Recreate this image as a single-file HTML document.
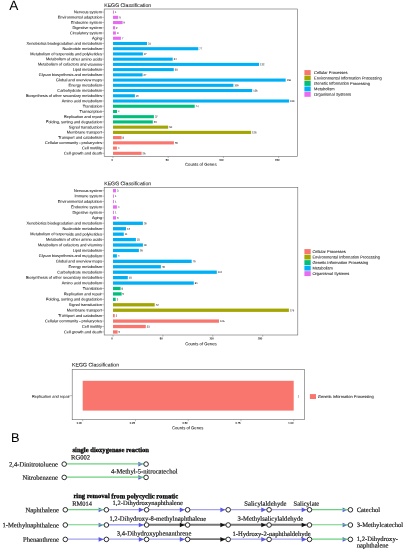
<!DOCTYPE html>
<html><head><meta charset="utf-8"><title>KEGG Classification</title>
<style>html,body{margin:0;padding:0;background:#fff;} svg{display:block;}</style></head>
<body><svg width="405" height="550" viewBox="0 0 405 550" text-rendering="geometricPrecision">
<rect width="405" height="550" fill="#fff"/>
<text x="9.2" y="10.4" font-size="13.6" fill="#000" font-family="'Liberation Sans', Arial, sans-serif">A</text>
<text x="104.20" y="7.00" font-size="5.2" text-anchor="start" fill="#1a1a1a" font-family="'Liberation Sans', Arial, sans-serif" stroke="#1a1a1a" stroke-width="0.06" transform="rotate(0.05 104.20 7.00)">KEGG Classification</text>
<rect x="104.2" y="9.0" width="193.3" height="147.4" fill="none" stroke="#666" stroke-width="0.6"/>
<rect x="113" y="10.55" width="0.90" height="3.1" fill="#E76BF3"/>
<text x="114.90" y="13.00" font-size="2.6" text-anchor="start" fill="#333" font-family="'Liberation Sans', Arial, sans-serif" stroke="#333" stroke-width="0.05" transform="rotate(0.05 114.90 13.00)">1</text>
<text x="101.90" y="13.35" font-size="3.9" text-anchor="end" fill="#1a1a1a" font-family="'Liberation Sans', Arial, sans-serif" stroke="#1a1a1a" stroke-width="0.06" transform="rotate(0.05 101.90 13.35)">Nervous system</text>
<line x1="102.2" y1="12.10" x2="104.2" y2="12.10" stroke="#555" stroke-width="0.4"/>
<rect x="113" y="15.78" width="5.20" height="3.1" fill="#E76BF3"/>
<text x="119.20" y="18.23" font-size="2.6" text-anchor="start" fill="#333" font-family="'Liberation Sans', Arial, sans-serif" stroke="#333" stroke-width="0.05" transform="rotate(0.05 119.20 18.23)">5</text>
<text x="101.90" y="18.58" font-size="3.9" text-anchor="end" fill="#1a1a1a" font-family="'Liberation Sans', Arial, sans-serif" stroke="#1a1a1a" stroke-width="0.06" transform="rotate(0.05 101.90 18.58)">Environmental adaptation</text>
<line x1="102.2" y1="17.33" x2="104.2" y2="17.33" stroke="#555" stroke-width="0.4"/>
<rect x="113" y="21.01" width="9.60" height="3.1" fill="#E76BF3"/>
<text x="123.60" y="23.46" font-size="2.6" text-anchor="start" fill="#333" font-family="'Liberation Sans', Arial, sans-serif" stroke="#333" stroke-width="0.05" transform="rotate(0.05 123.60 23.46)">9</text>
<text x="101.90" y="23.81" font-size="3.9" text-anchor="end" fill="#1a1a1a" font-family="'Liberation Sans', Arial, sans-serif" stroke="#1a1a1a" stroke-width="0.06" transform="rotate(0.05 101.90 23.81)">Endocrine system</text>
<line x1="102.2" y1="22.56" x2="104.2" y2="22.56" stroke="#555" stroke-width="0.4"/>
<rect x="113" y="26.24" width="2.10" height="3.1" fill="#E76BF3"/>
<text x="116.10" y="28.69" font-size="2.6" text-anchor="start" fill="#333" font-family="'Liberation Sans', Arial, sans-serif" stroke="#333" stroke-width="0.05" transform="rotate(0.05 116.10 28.69)">2</text>
<text x="101.90" y="29.04" font-size="3.9" text-anchor="end" fill="#1a1a1a" font-family="'Liberation Sans', Arial, sans-serif" stroke="#1a1a1a" stroke-width="0.06" transform="rotate(0.05 101.90 29.04)">Digestive system</text>
<line x1="102.2" y1="27.79" x2="104.2" y2="27.79" stroke="#555" stroke-width="0.4"/>
<rect x="113" y="31.47" width="2.90" height="3.1" fill="#E76BF3"/>
<text x="116.90" y="33.92" font-size="2.6" text-anchor="start" fill="#333" font-family="'Liberation Sans', Arial, sans-serif" stroke="#333" stroke-width="0.05" transform="rotate(0.05 116.90 33.92)">3</text>
<text x="101.90" y="34.27" font-size="3.9" text-anchor="end" fill="#1a1a1a" font-family="'Liberation Sans', Arial, sans-serif" stroke="#1a1a1a" stroke-width="0.06" transform="rotate(0.05 101.90 34.27)">Circulatory system</text>
<line x1="102.2" y1="33.02" x2="104.2" y2="33.02" stroke="#555" stroke-width="0.4"/>
<rect x="113" y="36.70" width="7.90" height="3.1" fill="#E76BF3"/>
<text x="121.90" y="39.15" font-size="2.6" text-anchor="start" fill="#333" font-family="'Liberation Sans', Arial, sans-serif" stroke="#333" stroke-width="0.05" transform="rotate(0.05 121.90 39.15)">7</text>
<text x="101.90" y="39.50" font-size="3.9" text-anchor="end" fill="#1a1a1a" font-family="'Liberation Sans', Arial, sans-serif" stroke="#1a1a1a" stroke-width="0.06" transform="rotate(0.05 101.90 39.50)">Aging</text>
<line x1="102.2" y1="38.25" x2="104.2" y2="38.25" stroke="#555" stroke-width="0.4"/>
<rect x="113" y="41.93" width="34.00" height="3.1" fill="#00B0F6"/>
<text x="148.00" y="44.38" font-size="2.6" text-anchor="start" fill="#333" font-family="'Liberation Sans', Arial, sans-serif" stroke="#333" stroke-width="0.05" transform="rotate(0.05 148.00 44.38)">31</text>
<text x="101.90" y="44.73" font-size="3.9" text-anchor="end" fill="#1a1a1a" font-family="'Liberation Sans', Arial, sans-serif" stroke="#1a1a1a" stroke-width="0.06" transform="rotate(0.05 101.90 44.73)">Xenobiotics biodegradation and metabolism</text>
<line x1="102.2" y1="43.48" x2="104.2" y2="43.48" stroke="#555" stroke-width="0.4"/>
<rect x="113" y="47.16" width="85.30" height="3.1" fill="#00B0F6"/>
<text x="199.30" y="49.61" font-size="2.6" text-anchor="start" fill="#333" font-family="'Liberation Sans', Arial, sans-serif" stroke="#333" stroke-width="0.05" transform="rotate(0.05 199.30 49.61)">77</text>
<text x="101.90" y="49.96" font-size="3.9" text-anchor="end" fill="#1a1a1a" font-family="'Liberation Sans', Arial, sans-serif" stroke="#1a1a1a" stroke-width="0.06" transform="rotate(0.05 101.90 49.96)">Nucleotide metabolism</text>
<line x1="102.2" y1="48.71" x2="104.2" y2="48.71" stroke="#555" stroke-width="0.4"/>
<rect x="113" y="52.39" width="29.90" height="3.1" fill="#00B0F6"/>
<text x="143.90" y="54.84" font-size="2.6" text-anchor="start" fill="#333" font-family="'Liberation Sans', Arial, sans-serif" stroke="#333" stroke-width="0.05" transform="rotate(0.05 143.90 54.84)">27</text>
<text x="101.90" y="55.19" font-size="3.9" text-anchor="end" fill="#1a1a1a" font-family="'Liberation Sans', Arial, sans-serif" stroke="#1a1a1a" stroke-width="0.06" transform="rotate(0.05 101.90 55.19)">Metabolism of terpenoids and polyketides</text>
<line x1="102.2" y1="53.94" x2="104.2" y2="53.94" stroke="#555" stroke-width="0.4"/>
<rect x="113" y="57.62" width="59.70" height="3.1" fill="#00B0F6"/>
<text x="173.70" y="60.07" font-size="2.6" text-anchor="start" fill="#333" font-family="'Liberation Sans', Arial, sans-serif" stroke="#333" stroke-width="0.05" transform="rotate(0.05 173.70 60.07)">54</text>
<text x="101.90" y="60.42" font-size="3.9" text-anchor="end" fill="#1a1a1a" font-family="'Liberation Sans', Arial, sans-serif" stroke="#1a1a1a" stroke-width="0.06" transform="rotate(0.05 101.90 60.42)">Metabolism of other amino acids</text>
<line x1="102.2" y1="59.17" x2="104.2" y2="59.17" stroke="#555" stroke-width="0.4"/>
<rect x="113" y="62.85" width="146.00" height="3.1" fill="#00B0F6"/>
<text x="260.00" y="65.30" font-size="2.6" text-anchor="start" fill="#333" font-family="'Liberation Sans', Arial, sans-serif" stroke="#333" stroke-width="0.05" transform="rotate(0.05 260.00 65.30)">132</text>
<text x="101.90" y="65.65" font-size="3.9" text-anchor="end" fill="#1a1a1a" font-family="'Liberation Sans', Arial, sans-serif" stroke="#1a1a1a" stroke-width="0.06" transform="rotate(0.05 101.90 65.65)">Metabolism of cofactors and vitamins</text>
<line x1="102.2" y1="64.40" x2="104.2" y2="64.40" stroke="#555" stroke-width="0.4"/>
<rect x="113" y="68.08" width="60.80" height="3.1" fill="#00B0F6"/>
<text x="174.80" y="70.53" font-size="2.6" text-anchor="start" fill="#333" font-family="'Liberation Sans', Arial, sans-serif" stroke="#333" stroke-width="0.05" transform="rotate(0.05 174.80 70.53)">55</text>
<text x="101.90" y="70.88" font-size="3.9" text-anchor="end" fill="#1a1a1a" font-family="'Liberation Sans', Arial, sans-serif" stroke="#1a1a1a" stroke-width="0.06" transform="rotate(0.05 101.90 70.88)">Lipid metabolism</text>
<line x1="102.2" y1="69.63" x2="104.2" y2="69.63" stroke="#555" stroke-width="0.4"/>
<rect x="113" y="73.31" width="29.60" height="3.1" fill="#00B0F6"/>
<text x="143.60" y="75.76" font-size="2.6" text-anchor="start" fill="#333" font-family="'Liberation Sans', Arial, sans-serif" stroke="#333" stroke-width="0.05" transform="rotate(0.05 143.60 75.76)">27</text>
<text x="101.90" y="76.11" font-size="3.9" text-anchor="end" fill="#1a1a1a" font-family="'Liberation Sans', Arial, sans-serif" stroke="#1a1a1a" stroke-width="0.06" transform="rotate(0.05 101.90 76.11)">Glycan biosynthesis and metabolism</text>
<line x1="102.2" y1="74.86" x2="104.2" y2="74.86" stroke="#555" stroke-width="0.4"/>
<rect x="113" y="78.54" width="172.70" height="3.1" fill="#00B0F6"/>
<text x="286.70" y="80.99" font-size="2.6" text-anchor="start" fill="#333" font-family="'Liberation Sans', Arial, sans-serif" stroke="#333" stroke-width="0.05" transform="rotate(0.05 286.70 80.99)">156</text>
<text x="101.90" y="81.34" font-size="3.9" text-anchor="end" fill="#1a1a1a" font-family="'Liberation Sans', Arial, sans-serif" stroke="#1a1a1a" stroke-width="0.06" transform="rotate(0.05 101.90 81.34)">Global and overview maps</text>
<line x1="102.2" y1="80.09" x2="104.2" y2="80.09" stroke="#555" stroke-width="0.4"/>
<rect x="113" y="83.77" width="120.40" height="3.1" fill="#00B0F6"/>
<text x="234.40" y="86.22" font-size="2.6" text-anchor="start" fill="#333" font-family="'Liberation Sans', Arial, sans-serif" stroke="#333" stroke-width="0.05" transform="rotate(0.05 234.40 86.22)">109</text>
<text x="101.90" y="86.57" font-size="3.9" text-anchor="end" fill="#1a1a1a" font-family="'Liberation Sans', Arial, sans-serif" stroke="#1a1a1a" stroke-width="0.06" transform="rotate(0.05 101.90 86.57)">Energy metabolism</text>
<line x1="102.2" y1="85.32" x2="104.2" y2="85.32" stroke="#555" stroke-width="0.4"/>
<rect x="113" y="89.00" width="139.20" height="3.1" fill="#00B0F6"/>
<text x="253.20" y="91.45" font-size="2.6" text-anchor="start" fill="#333" font-family="'Liberation Sans', Arial, sans-serif" stroke="#333" stroke-width="0.05" transform="rotate(0.05 253.20 91.45)">126</text>
<text x="101.90" y="91.80" font-size="3.9" text-anchor="end" fill="#1a1a1a" font-family="'Liberation Sans', Arial, sans-serif" stroke="#1a1a1a" stroke-width="0.06" transform="rotate(0.05 101.90 91.80)">Carbohydrate metabolism</text>
<line x1="102.2" y1="90.55" x2="104.2" y2="90.55" stroke="#555" stroke-width="0.4"/>
<rect x="113" y="94.23" width="21.90" height="3.1" fill="#00B0F6"/>
<text x="135.90" y="96.68" font-size="2.6" text-anchor="start" fill="#333" font-family="'Liberation Sans', Arial, sans-serif" stroke="#333" stroke-width="0.05" transform="rotate(0.05 135.90 96.68)">20</text>
<text x="101.90" y="97.03" font-size="3.9" text-anchor="end" fill="#1a1a1a" font-family="'Liberation Sans', Arial, sans-serif" stroke="#1a1a1a" stroke-width="0.06" transform="rotate(0.05 101.90 97.03)">Biosynthesis of other secondary metabolites</text>
<line x1="102.2" y1="95.78" x2="104.2" y2="95.78" stroke="#555" stroke-width="0.4"/>
<rect x="113" y="99.46" width="176.10" height="3.1" fill="#00B0F6"/>
<text x="290.10" y="101.91" font-size="2.6" text-anchor="start" fill="#333" font-family="'Liberation Sans', Arial, sans-serif" stroke="#333" stroke-width="0.05" transform="rotate(0.05 290.10 101.91)">159</text>
<text x="101.90" y="102.26" font-size="3.9" text-anchor="end" fill="#1a1a1a" font-family="'Liberation Sans', Arial, sans-serif" stroke="#1a1a1a" stroke-width="0.06" transform="rotate(0.05 101.90 102.26)">Amino acid metabolism</text>
<line x1="102.2" y1="101.01" x2="104.2" y2="101.01" stroke="#555" stroke-width="0.4"/>
<rect x="113" y="104.69" width="81.70" height="3.1" fill="#00BF7D"/>
<text x="195.70" y="107.14" font-size="2.6" text-anchor="start" fill="#333" font-family="'Liberation Sans', Arial, sans-serif" stroke="#333" stroke-width="0.05" transform="rotate(0.05 195.70 107.14)">74</text>
<text x="101.90" y="107.49" font-size="3.9" text-anchor="end" fill="#1a1a1a" font-family="'Liberation Sans', Arial, sans-serif" stroke="#1a1a1a" stroke-width="0.06" transform="rotate(0.05 101.90 107.49)">Translation</text>
<line x1="102.2" y1="106.24" x2="104.2" y2="106.24" stroke="#555" stroke-width="0.4"/>
<rect x="113" y="109.92" width="4.00" height="3.1" fill="#00BF7D"/>
<text x="118.00" y="112.37" font-size="2.6" text-anchor="start" fill="#333" font-family="'Liberation Sans', Arial, sans-serif" stroke="#333" stroke-width="0.05" transform="rotate(0.05 118.00 112.37)">4</text>
<text x="101.90" y="112.72" font-size="3.9" text-anchor="end" fill="#1a1a1a" font-family="'Liberation Sans', Arial, sans-serif" stroke="#1a1a1a" stroke-width="0.06" transform="rotate(0.05 101.90 112.72)">Transcription</text>
<line x1="102.2" y1="111.47" x2="104.2" y2="111.47" stroke="#555" stroke-width="0.4"/>
<rect x="113" y="115.15" width="40.90" height="3.1" fill="#00BF7D"/>
<text x="154.90" y="117.60" font-size="2.6" text-anchor="start" fill="#333" font-family="'Liberation Sans', Arial, sans-serif" stroke="#333" stroke-width="0.05" transform="rotate(0.05 154.90 117.60)">37</text>
<text x="101.90" y="117.95" font-size="3.9" text-anchor="end" fill="#1a1a1a" font-family="'Liberation Sans', Arial, sans-serif" stroke="#1a1a1a" stroke-width="0.06" transform="rotate(0.05 101.90 117.95)">Replication and repair</text>
<line x1="102.2" y1="116.70" x2="104.2" y2="116.70" stroke="#555" stroke-width="0.4"/>
<rect x="113" y="120.38" width="39.80" height="3.1" fill="#00BF7D"/>
<text x="153.80" y="122.83" font-size="2.6" text-anchor="start" fill="#333" font-family="'Liberation Sans', Arial, sans-serif" stroke="#333" stroke-width="0.05" transform="rotate(0.05 153.80 122.83)">36</text>
<text x="101.90" y="123.18" font-size="3.9" text-anchor="end" fill="#1a1a1a" font-family="'Liberation Sans', Arial, sans-serif" stroke="#1a1a1a" stroke-width="0.06" transform="rotate(0.05 101.90 123.18)">Folding, sorting and degradation</text>
<line x1="102.2" y1="121.93" x2="104.2" y2="121.93" stroke="#555" stroke-width="0.4"/>
<rect x="113" y="125.61" width="55.20" height="3.1" fill="#A3A500"/>
<text x="169.20" y="128.06" font-size="2.6" text-anchor="start" fill="#333" font-family="'Liberation Sans', Arial, sans-serif" stroke="#333" stroke-width="0.05" transform="rotate(0.05 169.20 128.06)">50</text>
<text x="101.90" y="128.41" font-size="3.9" text-anchor="end" fill="#1a1a1a" font-family="'Liberation Sans', Arial, sans-serif" stroke="#1a1a1a" stroke-width="0.06" transform="rotate(0.05 101.90 128.41)">Signal transduction</text>
<line x1="102.2" y1="127.16" x2="104.2" y2="127.16" stroke="#555" stroke-width="0.4"/>
<rect x="113" y="130.84" width="138.10" height="3.1" fill="#A3A500"/>
<text x="252.10" y="133.29" font-size="2.6" text-anchor="start" fill="#333" font-family="'Liberation Sans', Arial, sans-serif" stroke="#333" stroke-width="0.05" transform="rotate(0.05 252.10 133.29)">125</text>
<text x="101.90" y="133.64" font-size="3.9" text-anchor="end" fill="#1a1a1a" font-family="'Liberation Sans', Arial, sans-serif" stroke="#1a1a1a" stroke-width="0.06" transform="rotate(0.05 101.90 133.64)">Membrane transport</text>
<line x1="102.2" y1="132.39" x2="104.2" y2="132.39" stroke="#555" stroke-width="0.4"/>
<rect x="113" y="136.07" width="8.60" height="3.1" fill="#F8766D"/>
<text x="122.60" y="138.52" font-size="2.6" text-anchor="start" fill="#333" font-family="'Liberation Sans', Arial, sans-serif" stroke="#333" stroke-width="0.05" transform="rotate(0.05 122.60 138.52)">8</text>
<text x="101.90" y="138.87" font-size="3.9" text-anchor="end" fill="#1a1a1a" font-family="'Liberation Sans', Arial, sans-serif" stroke="#1a1a1a" stroke-width="0.06" transform="rotate(0.05 101.90 138.87)">Transport and catabolism</text>
<line x1="102.2" y1="137.62" x2="104.2" y2="137.62" stroke="#555" stroke-width="0.4"/>
<rect x="113" y="141.30" width="60.90" height="3.1" fill="#F8766D"/>
<text x="174.90" y="143.75" font-size="2.6" text-anchor="start" fill="#333" font-family="'Liberation Sans', Arial, sans-serif" stroke="#333" stroke-width="0.05" transform="rotate(0.05 174.90 143.75)">55</text>
<text x="101.90" y="144.10" font-size="3.9" text-anchor="end" fill="#1a1a1a" font-family="'Liberation Sans', Arial, sans-serif" stroke="#1a1a1a" stroke-width="0.06" transform="rotate(0.05 101.90 144.10)">Cellular community - prokaryotes</text>
<line x1="102.2" y1="142.85" x2="104.2" y2="142.85" stroke="#555" stroke-width="0.4"/>
<rect x="113" y="146.53" width="3.90" height="3.1" fill="#F8766D"/>
<text x="117.90" y="148.98" font-size="2.6" text-anchor="start" fill="#333" font-family="'Liberation Sans', Arial, sans-serif" stroke="#333" stroke-width="0.05" transform="rotate(0.05 117.90 148.98)">4</text>
<text x="101.90" y="149.33" font-size="3.9" text-anchor="end" fill="#1a1a1a" font-family="'Liberation Sans', Arial, sans-serif" stroke="#1a1a1a" stroke-width="0.06" transform="rotate(0.05 101.90 149.33)">Cell motility</text>
<line x1="102.2" y1="148.08" x2="104.2" y2="148.08" stroke="#555" stroke-width="0.4"/>
<rect x="113" y="151.76" width="28.60" height="3.1" fill="#F8766D"/>
<text x="142.60" y="154.21" font-size="2.6" text-anchor="start" fill="#333" font-family="'Liberation Sans', Arial, sans-serif" stroke="#333" stroke-width="0.05" transform="rotate(0.05 142.60 154.21)">26</text>
<text x="101.90" y="154.56" font-size="3.9" text-anchor="end" fill="#1a1a1a" font-family="'Liberation Sans', Arial, sans-serif" stroke="#1a1a1a" stroke-width="0.06" transform="rotate(0.05 101.90 154.56)">Cell growth and death</text>
<line x1="102.2" y1="153.31" x2="104.2" y2="153.31" stroke="#555" stroke-width="0.4"/>
<line x1="113" y1="156.4" x2="113" y2="158.0" stroke="#555" stroke-width="0.4"/>
<text x="112.20" y="160.80" font-size="2.6" text-anchor="middle" fill="#222" font-family="'Liberation Sans', Arial, sans-serif" stroke="#222" stroke-width="0.1" transform="rotate(0.05 112.20 160.80)">0</text>
<line x1="168.2" y1="156.4" x2="168.2" y2="158.0" stroke="#555" stroke-width="0.4"/>
<text x="167.30" y="160.80" font-size="2.6" text-anchor="middle" fill="#222" font-family="'Liberation Sans', Arial, sans-serif" stroke="#222" stroke-width="0.1" transform="rotate(0.05 167.30 160.80)">50</text>
<line x1="223.4" y1="156.4" x2="223.4" y2="158.0" stroke="#555" stroke-width="0.4"/>
<text x="221.30" y="160.80" font-size="2.6" text-anchor="middle" fill="#222" font-family="'Liberation Sans', Arial, sans-serif" stroke="#222" stroke-width="0.1" transform="rotate(0.05 221.30 160.80)">100</text>
<line x1="278.6" y1="156.4" x2="278.6" y2="158.0" stroke="#555" stroke-width="0.4"/>
<text x="277.20" y="160.80" font-size="2.6" text-anchor="middle" fill="#222" font-family="'Liberation Sans', Arial, sans-serif" stroke="#222" stroke-width="0.1" transform="rotate(0.05 277.20 160.80)">150</text>
<text x="185.10" y="165.80" font-size="4.2" text-anchor="start" fill="#1a1a1a" font-family="'Liberation Sans', Arial, sans-serif" stroke="#1a1a1a" stroke-width="0.06" transform="rotate(0.05 185.10 165.80)">Counts of Genes</text>
<rect x="304.4" y="70.10" width="6.3" height="4.9" fill="#F8766D"/>
<text x="314.10" y="73.95" font-size="4.0" text-anchor="start" fill="#1a1a1a" font-family="'Liberation Sans', Arial, sans-serif" stroke="#1a1a1a" stroke-width="0.05" transform="rotate(0.05 314.10 73.95)">Cellular Processes</text>
<rect x="304.4" y="75.55" width="6.3" height="4.9" fill="#A3A500"/>
<text x="314.10" y="79.40" font-size="4.0" text-anchor="start" fill="#1a1a1a" font-family="'Liberation Sans', Arial, sans-serif" stroke="#1a1a1a" stroke-width="0.05" transform="rotate(0.05 314.10 79.40)">Environmental Information Processing</text>
<rect x="304.4" y="81.00" width="6.3" height="4.9" fill="#00BF7D"/>
<text x="314.10" y="84.85" font-size="4.0" text-anchor="start" fill="#1a1a1a" font-family="'Liberation Sans', Arial, sans-serif" stroke="#1a1a1a" stroke-width="0.05" transform="rotate(0.05 314.10 84.85)">Genetic Information Processing</text>
<rect x="304.4" y="86.45" width="6.3" height="4.9" fill="#00B0F6"/>
<text x="314.10" y="90.30" font-size="4.0" text-anchor="start" fill="#1a1a1a" font-family="'Liberation Sans', Arial, sans-serif" stroke="#1a1a1a" stroke-width="0.05" transform="rotate(0.05 314.10 90.30)">Metabolism</text>
<rect x="304.4" y="91.90" width="6.3" height="4.9" fill="#E76BF3"/>
<text x="314.10" y="95.75" font-size="4.0" text-anchor="start" fill="#1a1a1a" font-family="'Liberation Sans', Arial, sans-serif" stroke="#1a1a1a" stroke-width="0.05" transform="rotate(0.05 314.10 95.75)">Organismal Systems</text>
<text x="104.20" y="185.30" font-size="5.2" text-anchor="start" fill="#1a1a1a" font-family="'Liberation Sans', Arial, sans-serif" stroke="#1a1a1a" stroke-width="0.06" transform="rotate(0.05 104.20 185.30)">KEGG Classification</text>
<rect x="104.2" y="187.6" width="193.60000000000002" height="147.4" fill="none" stroke="#666" stroke-width="0.6"/>
<rect x="113" y="189.05" width="3.00" height="3.3" fill="#E76BF3"/>
<text x="117.00" y="191.60" font-size="2.6" text-anchor="start" fill="#333" font-family="'Liberation Sans', Arial, sans-serif" stroke="#333" stroke-width="0.05" transform="rotate(0.05 117.00 191.60)">3</text>
<text x="101.90" y="191.95" font-size="3.9" text-anchor="end" fill="#1a1a1a" font-family="'Liberation Sans', Arial, sans-serif" stroke="#1a1a1a" stroke-width="0.06" transform="rotate(0.05 101.90 191.95)">Nervous system</text>
<line x1="102.2" y1="190.70" x2="104.2" y2="190.70" stroke="#555" stroke-width="0.4"/>
<rect x="113" y="194.48" width="0.90" height="3.3" fill="#E76BF3"/>
<text x="114.90" y="197.03" font-size="2.6" text-anchor="start" fill="#333" font-family="'Liberation Sans', Arial, sans-serif" stroke="#333" stroke-width="0.05" transform="rotate(0.05 114.90 197.03)">1</text>
<text x="101.90" y="197.38" font-size="3.9" text-anchor="end" fill="#1a1a1a" font-family="'Liberation Sans', Arial, sans-serif" stroke="#1a1a1a" stroke-width="0.06" transform="rotate(0.05 101.90 197.38)">Immune system</text>
<line x1="102.2" y1="196.13" x2="104.2" y2="196.13" stroke="#555" stroke-width="0.4"/>
<rect x="113" y="199.92" width="0.90" height="3.3" fill="#E76BF3"/>
<text x="114.90" y="202.47" font-size="2.6" text-anchor="start" fill="#333" font-family="'Liberation Sans', Arial, sans-serif" stroke="#333" stroke-width="0.05" transform="rotate(0.05 114.90 202.47)">1</text>
<text x="101.90" y="202.82" font-size="3.9" text-anchor="end" fill="#1a1a1a" font-family="'Liberation Sans', Arial, sans-serif" stroke="#1a1a1a" stroke-width="0.06" transform="rotate(0.05 101.90 202.82)">Environmental adaptation</text>
<line x1="102.2" y1="201.57" x2="104.2" y2="201.57" stroke="#555" stroke-width="0.4"/>
<rect x="113" y="205.35" width="3.90" height="3.3" fill="#E76BF3"/>
<text x="117.90" y="207.90" font-size="2.6" text-anchor="start" fill="#333" font-family="'Liberation Sans', Arial, sans-serif" stroke="#333" stroke-width="0.05" transform="rotate(0.05 117.90 207.90)">4</text>
<text x="101.90" y="208.25" font-size="3.9" text-anchor="end" fill="#1a1a1a" font-family="'Liberation Sans', Arial, sans-serif" stroke="#1a1a1a" stroke-width="0.06" transform="rotate(0.05 101.90 208.25)">Endocrine system</text>
<line x1="102.2" y1="207.00" x2="104.2" y2="207.00" stroke="#555" stroke-width="0.4"/>
<rect x="113" y="210.78" width="0.90" height="3.3" fill="#E76BF3"/>
<text x="114.90" y="213.33" font-size="2.6" text-anchor="start" fill="#333" font-family="'Liberation Sans', Arial, sans-serif" stroke="#333" stroke-width="0.05" transform="rotate(0.05 114.90 213.33)">1</text>
<text x="101.90" y="213.68" font-size="3.9" text-anchor="end" fill="#1a1a1a" font-family="'Liberation Sans', Arial, sans-serif" stroke="#1a1a1a" stroke-width="0.06" transform="rotate(0.05 101.90 213.68)">Digestive system</text>
<line x1="102.2" y1="212.43" x2="104.2" y2="212.43" stroke="#555" stroke-width="0.4"/>
<rect x="113" y="216.21" width="3.00" height="3.3" fill="#E76BF3"/>
<text x="117.00" y="218.76" font-size="2.6" text-anchor="start" fill="#333" font-family="'Liberation Sans', Arial, sans-serif" stroke="#333" stroke-width="0.05" transform="rotate(0.05 117.00 218.76)">3</text>
<text x="101.90" y="219.11" font-size="3.9" text-anchor="end" fill="#1a1a1a" font-family="'Liberation Sans', Arial, sans-serif" stroke="#1a1a1a" stroke-width="0.06" transform="rotate(0.05 101.90 219.11)">Aging</text>
<line x1="102.2" y1="217.86" x2="104.2" y2="217.86" stroke="#555" stroke-width="0.4"/>
<rect x="113" y="221.65" width="29.90" height="3.3" fill="#00B0F6"/>
<text x="143.90" y="224.20" font-size="2.6" text-anchor="start" fill="#333" font-family="'Liberation Sans', Arial, sans-serif" stroke="#333" stroke-width="0.05" transform="rotate(0.05 143.90 224.20)">30</text>
<text x="101.90" y="224.55" font-size="3.9" text-anchor="end" fill="#1a1a1a" font-family="'Liberation Sans', Arial, sans-serif" stroke="#1a1a1a" stroke-width="0.06" transform="rotate(0.05 101.90 224.55)">Xenobiotics biodegradation and metabolism</text>
<line x1="102.2" y1="223.30" x2="104.2" y2="223.30" stroke="#555" stroke-width="0.4"/>
<rect x="113" y="227.08" width="13.00" height="3.3" fill="#00B0F6"/>
<text x="127.00" y="229.63" font-size="2.6" text-anchor="start" fill="#333" font-family="'Liberation Sans', Arial, sans-serif" stroke="#333" stroke-width="0.05" transform="rotate(0.05 127.00 229.63)">13</text>
<text x="101.90" y="229.98" font-size="3.9" text-anchor="end" fill="#1a1a1a" font-family="'Liberation Sans', Arial, sans-serif" stroke="#1a1a1a" stroke-width="0.06" transform="rotate(0.05 101.90 229.98)">Nucleotide metabolism</text>
<line x1="102.2" y1="228.73" x2="104.2" y2="228.73" stroke="#555" stroke-width="0.4"/>
<rect x="113" y="232.51" width="10.80" height="3.3" fill="#00B0F6"/>
<text x="124.80" y="235.06" font-size="2.6" text-anchor="start" fill="#333" font-family="'Liberation Sans', Arial, sans-serif" stroke="#333" stroke-width="0.05" transform="rotate(0.05 124.80 235.06)">11</text>
<text x="101.90" y="235.41" font-size="3.9" text-anchor="end" fill="#1a1a1a" font-family="'Liberation Sans', Arial, sans-serif" stroke="#1a1a1a" stroke-width="0.06" transform="rotate(0.05 101.90 235.41)">Metabolism of terpenoids and polyketides</text>
<line x1="102.2" y1="234.16" x2="104.2" y2="234.16" stroke="#555" stroke-width="0.4"/>
<rect x="113" y="237.95" width="22.90" height="3.3" fill="#00B0F6"/>
<text x="136.90" y="240.50" font-size="2.6" text-anchor="start" fill="#333" font-family="'Liberation Sans', Arial, sans-serif" stroke="#333" stroke-width="0.05" transform="rotate(0.05 136.90 240.50)">23</text>
<text x="101.90" y="240.85" font-size="3.9" text-anchor="end" fill="#1a1a1a" font-family="'Liberation Sans', Arial, sans-serif" stroke="#1a1a1a" stroke-width="0.06" transform="rotate(0.05 101.90 240.85)">Metabolism of other amino acids</text>
<line x1="102.2" y1="239.60" x2="104.2" y2="239.60" stroke="#555" stroke-width="0.4"/>
<rect x="113" y="243.38" width="29.90" height="3.3" fill="#00B0F6"/>
<text x="143.90" y="245.93" font-size="2.6" text-anchor="start" fill="#333" font-family="'Liberation Sans', Arial, sans-serif" stroke="#333" stroke-width="0.05" transform="rotate(0.05 143.90 245.93)">30</text>
<text x="101.90" y="246.28" font-size="3.9" text-anchor="end" fill="#1a1a1a" font-family="'Liberation Sans', Arial, sans-serif" stroke="#1a1a1a" stroke-width="0.06" transform="rotate(0.05 101.90 246.28)">Metabolism of cofactors and vitamins</text>
<line x1="102.2" y1="245.03" x2="104.2" y2="245.03" stroke="#555" stroke-width="0.4"/>
<rect x="113" y="248.81" width="25.90" height="3.3" fill="#00B0F6"/>
<text x="139.90" y="251.36" font-size="2.6" text-anchor="start" fill="#333" font-family="'Liberation Sans', Arial, sans-serif" stroke="#333" stroke-width="0.05" transform="rotate(0.05 139.90 251.36)">26</text>
<text x="101.90" y="251.71" font-size="3.9" text-anchor="end" fill="#1a1a1a" font-family="'Liberation Sans', Arial, sans-serif" stroke="#1a1a1a" stroke-width="0.06" transform="rotate(0.05 101.90 251.71)">Lipid metabolism</text>
<line x1="102.2" y1="250.46" x2="104.2" y2="250.46" stroke="#555" stroke-width="0.4"/>
<rect x="113" y="254.25" width="3.90" height="3.3" fill="#00B0F6"/>
<text x="117.90" y="256.80" font-size="2.6" text-anchor="start" fill="#333" font-family="'Liberation Sans', Arial, sans-serif" stroke="#333" stroke-width="0.05" transform="rotate(0.05 117.90 256.80)">4</text>
<text x="101.90" y="257.15" font-size="3.9" text-anchor="end" fill="#1a1a1a" font-family="'Liberation Sans', Arial, sans-serif" stroke="#1a1a1a" stroke-width="0.06" transform="rotate(0.05 101.90 257.15)">Glycan biosynthesis and metabolism</text>
<line x1="102.2" y1="255.90" x2="104.2" y2="255.90" stroke="#555" stroke-width="0.4"/>
<rect x="113" y="259.68" width="78.70" height="3.3" fill="#00B0F6"/>
<text x="192.70" y="262.23" font-size="2.6" text-anchor="start" fill="#333" font-family="'Liberation Sans', Arial, sans-serif" stroke="#333" stroke-width="0.05" transform="rotate(0.05 192.70 262.23)">79</text>
<text x="101.90" y="262.58" font-size="3.9" text-anchor="end" fill="#1a1a1a" font-family="'Liberation Sans', Arial, sans-serif" stroke="#1a1a1a" stroke-width="0.06" transform="rotate(0.05 101.90 262.58)">Global and overview maps</text>
<line x1="102.2" y1="261.33" x2="104.2" y2="261.33" stroke="#555" stroke-width="0.4"/>
<rect x="113" y="265.11" width="47.90" height="3.3" fill="#00B0F6"/>
<text x="161.90" y="267.66" font-size="2.6" text-anchor="start" fill="#333" font-family="'Liberation Sans', Arial, sans-serif" stroke="#333" stroke-width="0.05" transform="rotate(0.05 161.90 267.66)">48</text>
<text x="101.90" y="268.01" font-size="3.9" text-anchor="end" fill="#1a1a1a" font-family="'Liberation Sans', Arial, sans-serif" stroke="#1a1a1a" stroke-width="0.06" transform="rotate(0.05 101.90 268.01)">Energy metabolism</text>
<line x1="102.2" y1="266.76" x2="104.2" y2="266.76" stroke="#555" stroke-width="0.4"/>
<rect x="113" y="270.55" width="103.80" height="3.3" fill="#00B0F6"/>
<text x="217.80" y="273.09" font-size="2.6" text-anchor="start" fill="#333" font-family="'Liberation Sans', Arial, sans-serif" stroke="#333" stroke-width="0.05" transform="rotate(0.05 217.80 273.09)">104</text>
<text x="101.90" y="273.44" font-size="3.9" text-anchor="end" fill="#1a1a1a" font-family="'Liberation Sans', Arial, sans-serif" stroke="#1a1a1a" stroke-width="0.06" transform="rotate(0.05 101.90 273.44)">Carbohydrate metabolism</text>
<line x1="102.2" y1="272.19" x2="104.2" y2="272.19" stroke="#555" stroke-width="0.4"/>
<rect x="113" y="275.98" width="14.80" height="3.3" fill="#00B0F6"/>
<text x="128.80" y="278.53" font-size="2.6" text-anchor="start" fill="#333" font-family="'Liberation Sans', Arial, sans-serif" stroke="#333" stroke-width="0.05" transform="rotate(0.05 128.80 278.53)">15</text>
<text x="101.90" y="278.88" font-size="3.9" text-anchor="end" fill="#1a1a1a" font-family="'Liberation Sans', Arial, sans-serif" stroke="#1a1a1a" stroke-width="0.06" transform="rotate(0.05 101.90 278.88)">Biosynthesis of other secondary metabolites</text>
<line x1="102.2" y1="277.63" x2="104.2" y2="277.63" stroke="#555" stroke-width="0.4"/>
<rect x="113" y="281.41" width="80.80" height="3.3" fill="#00B0F6"/>
<text x="194.80" y="283.96" font-size="2.6" text-anchor="start" fill="#333" font-family="'Liberation Sans', Arial, sans-serif" stroke="#333" stroke-width="0.05" transform="rotate(0.05 194.80 283.96)">81</text>
<text x="101.90" y="284.31" font-size="3.9" text-anchor="end" fill="#1a1a1a" font-family="'Liberation Sans', Arial, sans-serif" stroke="#1a1a1a" stroke-width="0.06" transform="rotate(0.05 101.90 284.31)">Amino acid metabolism</text>
<line x1="102.2" y1="283.06" x2="104.2" y2="283.06" stroke="#555" stroke-width="0.4"/>
<rect x="113" y="286.84" width="7.60" height="3.3" fill="#00BF7D"/>
<text x="121.60" y="289.39" font-size="2.6" text-anchor="start" fill="#333" font-family="'Liberation Sans', Arial, sans-serif" stroke="#333" stroke-width="0.05" transform="rotate(0.05 121.60 289.39)">8</text>
<text x="101.90" y="289.74" font-size="3.9" text-anchor="end" fill="#1a1a1a" font-family="'Liberation Sans', Arial, sans-serif" stroke="#1a1a1a" stroke-width="0.06" transform="rotate(0.05 101.90 289.74)">Translation</text>
<line x1="102.2" y1="288.49" x2="104.2" y2="288.49" stroke="#555" stroke-width="0.4"/>
<rect x="113" y="292.28" width="8.60" height="3.3" fill="#00BF7D"/>
<text x="122.60" y="294.83" font-size="2.6" text-anchor="start" fill="#333" font-family="'Liberation Sans', Arial, sans-serif" stroke="#333" stroke-width="0.05" transform="rotate(0.05 122.60 294.83)">9</text>
<text x="101.90" y="295.18" font-size="3.9" text-anchor="end" fill="#1a1a1a" font-family="'Liberation Sans', Arial, sans-serif" stroke="#1a1a1a" stroke-width="0.06" transform="rotate(0.05 101.90 295.18)">Replication and repair</text>
<line x1="102.2" y1="293.93" x2="104.2" y2="293.93" stroke="#555" stroke-width="0.4"/>
<rect x="113" y="297.71" width="2.70" height="3.3" fill="#00BF7D"/>
<text x="116.70" y="300.26" font-size="2.6" text-anchor="start" fill="#333" font-family="'Liberation Sans', Arial, sans-serif" stroke="#333" stroke-width="0.05" transform="rotate(0.05 116.70 300.26)">3</text>
<text x="101.90" y="300.61" font-size="3.9" text-anchor="end" fill="#1a1a1a" font-family="'Liberation Sans', Arial, sans-serif" stroke="#1a1a1a" stroke-width="0.06" transform="rotate(0.05 101.90 300.61)">Folding, sorting and degradation</text>
<line x1="102.2" y1="299.36" x2="104.2" y2="299.36" stroke="#555" stroke-width="0.4"/>
<rect x="113" y="303.14" width="41.70" height="3.3" fill="#A3A500"/>
<text x="155.70" y="305.69" font-size="2.6" text-anchor="start" fill="#333" font-family="'Liberation Sans', Arial, sans-serif" stroke="#333" stroke-width="0.05" transform="rotate(0.05 155.70 305.69)">42</text>
<text x="101.90" y="306.04" font-size="3.9" text-anchor="end" fill="#1a1a1a" font-family="'Liberation Sans', Arial, sans-serif" stroke="#1a1a1a" stroke-width="0.06" transform="rotate(0.05 101.90 306.04)">Signal transduction</text>
<line x1="102.2" y1="304.79" x2="104.2" y2="304.79" stroke="#555" stroke-width="0.4"/>
<rect x="113" y="308.58" width="175.90" height="3.3" fill="#A3A500"/>
<text x="289.90" y="311.13" font-size="2.6" text-anchor="start" fill="#333" font-family="'Liberation Sans', Arial, sans-serif" stroke="#333" stroke-width="0.05" transform="rotate(0.05 289.90 311.13)">176</text>
<text x="101.90" y="311.48" font-size="3.9" text-anchor="end" fill="#1a1a1a" font-family="'Liberation Sans', Arial, sans-serif" stroke="#1a1a1a" stroke-width="0.06" transform="rotate(0.05 101.90 311.48)">Membrane transport</text>
<line x1="102.2" y1="310.23" x2="104.2" y2="310.23" stroke="#555" stroke-width="0.4"/>
<rect x="113" y="314.01" width="1.70" height="3.3" fill="#F8766D"/>
<text x="115.70" y="316.56" font-size="2.6" text-anchor="start" fill="#333" font-family="'Liberation Sans', Arial, sans-serif" stroke="#333" stroke-width="0.05" transform="rotate(0.05 115.70 316.56)">2</text>
<text x="101.90" y="316.91" font-size="3.9" text-anchor="end" fill="#1a1a1a" font-family="'Liberation Sans', Arial, sans-serif" stroke="#1a1a1a" stroke-width="0.06" transform="rotate(0.05 101.90 316.91)">Transport and catabolism</text>
<line x1="102.2" y1="315.66" x2="104.2" y2="315.66" stroke="#555" stroke-width="0.4"/>
<rect x="113" y="319.44" width="106.00" height="3.3" fill="#F8766D"/>
<text x="220.00" y="321.99" font-size="2.6" text-anchor="start" fill="#333" font-family="'Liberation Sans', Arial, sans-serif" stroke="#333" stroke-width="0.05" transform="rotate(0.05 220.00 321.99)">106</text>
<text x="101.90" y="322.34" font-size="3.9" text-anchor="end" fill="#1a1a1a" font-family="'Liberation Sans', Arial, sans-serif" stroke="#1a1a1a" stroke-width="0.06" transform="rotate(0.05 101.90 322.34)">Cellular community - prokaryotes</text>
<line x1="102.2" y1="321.09" x2="104.2" y2="321.09" stroke="#555" stroke-width="0.4"/>
<rect x="113" y="324.88" width="32.80" height="3.3" fill="#F8766D"/>
<text x="146.80" y="327.42" font-size="2.6" text-anchor="start" fill="#333" font-family="'Liberation Sans', Arial, sans-serif" stroke="#333" stroke-width="0.05" transform="rotate(0.05 146.80 327.42)">33</text>
<text x="101.90" y="327.77" font-size="3.9" text-anchor="end" fill="#1a1a1a" font-family="'Liberation Sans', Arial, sans-serif" stroke="#1a1a1a" stroke-width="0.06" transform="rotate(0.05 101.90 327.77)">Cell motility</text>
<line x1="102.2" y1="326.52" x2="104.2" y2="326.52" stroke="#555" stroke-width="0.4"/>
<rect x="113" y="330.31" width="4.60" height="3.3" fill="#F8766D"/>
<text x="118.60" y="332.86" font-size="2.6" text-anchor="start" fill="#333" font-family="'Liberation Sans', Arial, sans-serif" stroke="#333" stroke-width="0.05" transform="rotate(0.05 118.60 332.86)">5</text>
<text x="101.90" y="333.21" font-size="3.9" text-anchor="end" fill="#1a1a1a" font-family="'Liberation Sans', Arial, sans-serif" stroke="#1a1a1a" stroke-width="0.06" transform="rotate(0.05 101.90 333.21)">Cell growth and death</text>
<line x1="102.2" y1="331.96" x2="104.2" y2="331.96" stroke="#555" stroke-width="0.4"/>
<line x1="113" y1="335.0" x2="113" y2="336.6" stroke="#555" stroke-width="0.4"/>
<text x="112.00" y="339.30" font-size="2.6" text-anchor="middle" fill="#222" font-family="'Liberation Sans', Arial, sans-serif" stroke="#222" stroke-width="0.1" transform="rotate(0.05 112.00 339.30)">0</text>
<line x1="162.9" y1="335.0" x2="162.9" y2="336.6" stroke="#555" stroke-width="0.4"/>
<text x="161.20" y="339.30" font-size="2.6" text-anchor="middle" fill="#222" font-family="'Liberation Sans', Arial, sans-serif" stroke="#222" stroke-width="0.1" transform="rotate(0.05 161.20 339.30)">50</text>
<line x1="212.8" y1="335.0" x2="212.8" y2="336.6" stroke="#555" stroke-width="0.4"/>
<text x="211.60" y="339.30" font-size="2.6" text-anchor="middle" fill="#222" font-family="'Liberation Sans', Arial, sans-serif" stroke="#222" stroke-width="0.1" transform="rotate(0.05 211.60 339.30)">100</text>
<line x1="262.7" y1="335.0" x2="262.7" y2="336.6" stroke="#555" stroke-width="0.4"/>
<text x="260.00" y="339.30" font-size="2.6" text-anchor="middle" fill="#222" font-family="'Liberation Sans', Arial, sans-serif" stroke="#222" stroke-width="0.1" transform="rotate(0.05 260.00 339.30)">150</text>
<text x="185.20" y="345.20" font-size="4.2" text-anchor="start" fill="#1a1a1a" font-family="'Liberation Sans', Arial, sans-serif" stroke="#1a1a1a" stroke-width="0.06" transform="rotate(0.05 185.20 345.20)">Counts of Genes</text>
<rect x="304.4" y="249.10" width="6.3" height="4.9" fill="#F8766D"/>
<text x="312.40" y="252.95" font-size="4.0" text-anchor="start" fill="#1a1a1a" font-family="'Liberation Sans', Arial, sans-serif" stroke="#1a1a1a" stroke-width="0.05" transform="rotate(0.05 312.40 252.95)">Cellular Processes</text>
<rect x="304.4" y="254.62" width="6.3" height="4.9" fill="#A3A500"/>
<text x="312.40" y="258.47" font-size="4.0" text-anchor="start" fill="#1a1a1a" font-family="'Liberation Sans', Arial, sans-serif" stroke="#1a1a1a" stroke-width="0.05" transform="rotate(0.05 312.40 258.47)">Environmental Information Processing</text>
<rect x="304.4" y="260.14" width="6.3" height="4.9" fill="#00BF7D"/>
<text x="312.40" y="263.99" font-size="4.0" text-anchor="start" fill="#1a1a1a" font-family="'Liberation Sans', Arial, sans-serif" stroke="#1a1a1a" stroke-width="0.05" transform="rotate(0.05 312.40 263.99)">Genetic Information Processing</text>
<rect x="304.4" y="265.66" width="6.3" height="4.9" fill="#00B0F6"/>
<text x="312.40" y="269.51" font-size="4.0" text-anchor="start" fill="#1a1a1a" font-family="'Liberation Sans', Arial, sans-serif" stroke="#1a1a1a" stroke-width="0.05" transform="rotate(0.05 312.40 269.51)">Metabolism</text>
<rect x="304.4" y="271.18" width="6.3" height="4.9" fill="#E76BF3"/>
<text x="312.40" y="275.03" font-size="4.0" text-anchor="start" fill="#1a1a1a" font-family="'Liberation Sans', Arial, sans-serif" stroke="#1a1a1a" stroke-width="0.05" transform="rotate(0.05 312.40 275.03)">Organismal Systems</text>
<text x="72.10" y="366.40" font-size="5.2" text-anchor="start" fill="#1a1a1a" font-family="'Liberation Sans', Arial, sans-serif" stroke="#1a1a1a" stroke-width="0.06" transform="rotate(0.05 72.10 366.40)">KEGG Classification</text>
<rect x="72.2" y="369.6" width="232.3" height="50.1" fill="none" stroke="#666" stroke-width="0.6"/>
<rect x="82.7" y="380.8" width="211" height="29.8" fill="#F8766D"/>
<text x="297.80" y="397.20" font-size="2.6" text-anchor="start" fill="#333" font-family="'Liberation Sans', Arial, sans-serif" stroke="#333" stroke-width="0.05" transform="rotate(0.05 297.80 397.20)">1</text>
<text x="69.80" y="397.80" font-size="3.9" text-anchor="end" fill="#1a1a1a" font-family="'Liberation Sans', Arial, sans-serif" stroke="#1a1a1a" stroke-width="0.06" transform="rotate(0.05 69.80 397.80)">Replication and repair</text>
<line x1="70.1" y1="395.65" x2="72.1" y2="395.65" stroke="#555" stroke-width="0.4"/>
<line x1="82.7" y1="419.7" x2="82.7" y2="421.2" stroke="#555" stroke-width="0.4"/>
<text x="79.30" y="423.70" font-size="2.6" text-anchor="middle" fill="#222" font-family="'Liberation Sans', Arial, sans-serif" stroke="#222" stroke-width="0.1" transform="rotate(0.05 79.30 423.70)">0.00</text>
<line x1="135.45" y1="419.7" x2="135.45" y2="421.2" stroke="#555" stroke-width="0.4"/>
<text x="132.40" y="423.70" font-size="2.6" text-anchor="middle" fill="#222" font-family="'Liberation Sans', Arial, sans-serif" stroke="#222" stroke-width="0.1" transform="rotate(0.05 132.40 423.70)">0.25</text>
<line x1="188.2" y1="419.7" x2="188.2" y2="421.2" stroke="#555" stroke-width="0.4"/>
<text x="185.00" y="423.70" font-size="2.6" text-anchor="middle" fill="#222" font-family="'Liberation Sans', Arial, sans-serif" stroke="#222" stroke-width="0.1" transform="rotate(0.05 185.00 423.70)">0.50</text>
<line x1="240.95" y1="419.7" x2="240.95" y2="421.2" stroke="#555" stroke-width="0.4"/>
<text x="238.00" y="423.70" font-size="2.6" text-anchor="middle" fill="#222" font-family="'Liberation Sans', Arial, sans-serif" stroke="#222" stroke-width="0.1" transform="rotate(0.05 238.00 423.70)">0.75</text>
<line x1="293.7" y1="419.7" x2="293.7" y2="421.2" stroke="#555" stroke-width="0.4"/>
<text x="290.90" y="423.70" font-size="2.6" text-anchor="middle" fill="#222" font-family="'Liberation Sans', Arial, sans-serif" stroke="#222" stroke-width="0.1" transform="rotate(0.05 290.90 423.70)">1.00</text>
<text x="172.00" y="429.30" font-size="4.2" text-anchor="start" fill="#1a1a1a" font-family="'Liberation Sans', Arial, sans-serif" stroke="#1a1a1a" stroke-width="0.06" transform="rotate(0.05 172.00 429.30)">Counts of Genes</text>
<rect x="309.9" y="394.1" width="6.1" height="4.9" fill="#F8766D"/>
<text x="317.80" y="397.90" font-size="4.0" text-anchor="start" fill="#1a1a1a" font-family="'Liberation Sans', Arial, sans-serif" stroke="#1a1a1a" stroke-width="0.05" transform="rotate(0.05 317.80 397.90)">Genetic Information Processing</text>
<text x="11.0" y="442.2" font-size="12.8" fill="#000" font-family="'Liberation Sans', Arial, sans-serif">B</text>
<text x="72.50" y="451.90" font-size="6.6" text-anchor="start" fill="#000" font-family="'Liberation Serif', 'Times New Roman', serif" font-weight="bold" stroke="#000" stroke-width="0.28" transform="rotate(0.05 72.50 451.90)">single dioxygenase reaction</text>
<text x="71.00" y="459.50" font-size="6.6" text-anchor="start" fill="#1a1a1a" font-family="'Liberation Serif', 'Times New Roman', serif" stroke="#1a1a1a" stroke-width="0.18" transform="rotate(0.05 71.00 459.50)">RG002</text>
<text x="57.90" y="466.50" font-size="6.6" text-anchor="end" fill="#1a1a1a" font-family="'Liberation Serif', 'Times New Roman', serif" stroke="#1a1a1a" stroke-width="0.18" transform="rotate(0.05 57.90 466.50)">2,4-Dinitrotoluene</text>
<path d="M138.30,461.75 L143.00,464.10 L138.30,466.45 Z" fill="#5858e0"/>
<line x1="66.40" y1="463.85" x2="143.90" y2="463.85" stroke="#6cd07e" stroke-width="1.15"/>
<circle cx="64.2" cy="464.1" r="2.3" fill="#fff" stroke="#1a1a1a" stroke-width="0.9"/>
<circle cx="146.1" cy="464.1" r="2.3" fill="#fff" stroke="#1a1a1a" stroke-width="0.9"/>
<text x="57.90" y="479.80" font-size="6.6" text-anchor="end" fill="#1a1a1a" font-family="'Liberation Serif', 'Times New Roman', serif" stroke="#1a1a1a" stroke-width="0.18" transform="rotate(0.05 57.90 479.80)">Nitrobenzene</text>
<path d="M138.30,475.05 L143.00,477.40 L138.30,479.75 Z" fill="#5858e0"/>
<line x1="66.40" y1="477.15" x2="143.90" y2="477.15" stroke="#6cd07e" stroke-width="1.15"/>
<circle cx="64.2" cy="477.4" r="2.3" fill="#fff" stroke="#1a1a1a" stroke-width="0.9"/>
<circle cx="146.1" cy="477.4" r="2.3" fill="#fff" stroke="#1a1a1a" stroke-width="0.9"/>
<text x="111.00" y="473.40" font-size="6.6" text-anchor="start" fill="#1a1a1a" font-family="'Liberation Serif', 'Times New Roman', serif" stroke="#1a1a1a" stroke-width="0.18" transform="rotate(0.05 111.00 473.40)">4-Methyl-5-nitrocatechol</text>
<text x="73.40" y="498.10" font-size="6.6" text-anchor="start" fill="#000" font-family="'Liberation Serif', 'Times New Roman', serif" font-weight="bold" stroke="#000" stroke-width="0.28" transform="rotate(0.05 73.40 498.10)">ring removal from polycyclic romatic</text>
<text x="72.30" y="505.70" font-size="6.4" text-anchor="start" fill="#1a1a1a" font-family="'Liberation Serif', 'Times New Roman', serif" stroke="#1a1a1a" stroke-width="0.18" transform="rotate(0.05 72.30 505.70)">RM014</text>
<text x="58.90" y="512.20" font-size="6.6" text-anchor="end" fill="#1a1a1a" font-family="'Liberation Serif', 'Times New Roman', serif" stroke="#1a1a1a" stroke-width="0.18" transform="rotate(0.05 58.90 512.20)">Naphthalene</text>
<path d="M98.60,507.45 L103.30,509.80 L98.60,512.15 Z" fill="#5858e0"/>
<line x1="67.50" y1="509.55" x2="104.20" y2="509.55" stroke="#6cd07e" stroke-width="1.15"/>
<line x1="108.60" y1="509.55" x2="144.40" y2="509.55" stroke="#a4a4ea" stroke-width="1.3"/>
<path d="M138.80,507.45 L143.50,509.80 L138.80,512.15 Z" fill="#5858e0"/>
<line x1="148.80" y1="509.55" x2="185.40" y2="509.55" stroke="#a4a4ea" stroke-width="1.3"/>
<path d="M179.80,507.45 L184.50,509.80 L179.80,512.15 Z" fill="#5858e0"/>
<line x1="189.80" y1="509.55" x2="226.00" y2="509.55" stroke="#a4a4ea" stroke-width="1.3"/>
<path d="M220.40,507.45 L225.10,509.80 L220.40,512.15 Z" fill="#5858e0"/>
<line x1="230.40" y1="509.55" x2="266.90" y2="509.55" stroke="#a4a4ea" stroke-width="1.3"/>
<path d="M261.30,507.45 L266.00,509.80 L261.30,512.15 Z" fill="#5858e0"/>
<line x1="271.30" y1="509.55" x2="307.30" y2="509.55" stroke="#a4a4ea" stroke-width="1.3"/>
<path d="M301.70,507.45 L306.40,509.80 L301.70,512.15 Z" fill="#5858e0"/>
<path d="M342.60,507.45 L347.30,509.80 L342.60,512.15 Z" fill="#5858e0"/>
<line x1="311.70" y1="509.55" x2="348.20" y2="509.55" stroke="#6cd07e" stroke-width="1.15"/>
<circle cx="65.3" cy="509.8" r="2.3" fill="#fff" stroke="#1a1a1a" stroke-width="0.9"/>
<circle cx="106.4" cy="509.8" r="2.3" fill="#fff" stroke="#1a1a1a" stroke-width="0.9"/>
<circle cx="146.6" cy="509.8" r="2.3" fill="#fff" stroke="#1a1a1a" stroke-width="0.9"/>
<circle cx="187.6" cy="509.8" r="2.3" fill="#fff" stroke="#1a1a1a" stroke-width="0.9"/>
<circle cx="228.2" cy="509.8" r="2.3" fill="#fff" stroke="#1a1a1a" stroke-width="0.9"/>
<circle cx="269.1" cy="509.8" r="2.3" fill="#fff" stroke="#1a1a1a" stroke-width="0.9"/>
<circle cx="309.5" cy="509.8" r="2.3" fill="#fff" stroke="#1a1a1a" stroke-width="0.9"/>
<circle cx="350.4" cy="509.8" r="2.3" fill="#fff" stroke="#1a1a1a" stroke-width="0.9"/>
<text x="58.90" y="527.40" font-size="6.6" text-anchor="end" fill="#1a1a1a" font-family="'Liberation Serif', 'Times New Roman', serif" stroke="#1a1a1a" stroke-width="0.18" transform="rotate(0.05 58.90 527.40)">1-Methylnaphthalene</text>
<path d="M98.60,522.65 L103.30,525.00 L98.60,527.35 Z" fill="#5858e0"/>
<line x1="67.50" y1="524.75" x2="104.20" y2="524.75" stroke="#6cd07e" stroke-width="1.15"/>
<line x1="108.60" y1="524.75" x2="144.40" y2="524.75" stroke="#a4a4ea" stroke-width="1.3"/>
<path d="M138.80,522.65 L143.50,525.00 L138.80,527.35 Z" fill="#5858e0"/>
<line x1="148.80" y1="524.75" x2="185.40" y2="524.75" stroke="#777777" stroke-width="1.8"/>
<path d="M179.80,522.65 L184.50,525.00 L179.80,527.35 Z" fill="#111111"/>
<line x1="189.80" y1="524.75" x2="226.00" y2="524.75" stroke="#777777" stroke-width="1.8"/>
<path d="M220.40,522.65 L225.10,525.00 L220.40,527.35 Z" fill="#111111"/>
<line x1="230.40" y1="524.75" x2="266.90" y2="524.75" stroke="#777777" stroke-width="1.8"/>
<path d="M261.30,522.65 L266.00,525.00 L261.30,527.35 Z" fill="#111111"/>
<line x1="271.30" y1="524.75" x2="307.30" y2="524.75" stroke="#777777" stroke-width="1.8"/>
<path d="M301.70,522.65 L306.40,525.00 L301.70,527.35 Z" fill="#111111"/>
<path d="M342.60,522.65 L347.30,525.00 L342.60,527.35 Z" fill="#5858e0"/>
<line x1="311.70" y1="524.75" x2="348.20" y2="524.75" stroke="#6cd07e" stroke-width="1.15"/>
<circle cx="65.3" cy="525.0" r="2.3" fill="#fff" stroke="#1a1a1a" stroke-width="0.9"/>
<circle cx="106.4" cy="525.0" r="2.3" fill="#fff" stroke="#1a1a1a" stroke-width="0.9"/>
<circle cx="146.6" cy="525.0" r="2.3" fill="#fff" stroke="#1a1a1a" stroke-width="0.9"/>
<circle cx="187.6" cy="525.0" r="2.3" fill="#fff" stroke="#1a1a1a" stroke-width="0.9"/>
<circle cx="228.2" cy="525.0" r="2.3" fill="#fff" stroke="#1a1a1a" stroke-width="0.9"/>
<circle cx="269.1" cy="525.0" r="2.3" fill="#fff" stroke="#1a1a1a" stroke-width="0.9"/>
<circle cx="309.5" cy="525.0" r="2.3" fill="#fff" stroke="#1a1a1a" stroke-width="0.9"/>
<circle cx="350.4" cy="525.0" r="2.3" fill="#fff" stroke="#1a1a1a" stroke-width="0.9"/>
<text x="58.90" y="541.80" font-size="6.6" text-anchor="end" fill="#1a1a1a" font-family="'Liberation Serif', 'Times New Roman', serif" stroke="#1a1a1a" stroke-width="0.18" transform="rotate(0.05 58.90 541.80)">Phenanthrene</text>
<line x1="67.50" y1="539.15" x2="104.20" y2="539.15" stroke="#a4a4ea" stroke-width="1.3"/>
<path d="M98.60,537.05 L103.30,539.40 L98.60,541.75 Z" fill="#5858e0"/>
<line x1="108.60" y1="539.15" x2="144.40" y2="539.15" stroke="#a4a4ea" stroke-width="1.3"/>
<path d="M138.80,537.05 L143.50,539.40 L138.80,541.75 Z" fill="#5858e0"/>
<line x1="148.80" y1="539.15" x2="185.40" y2="539.15" stroke="#a4a4ea" stroke-width="1.3"/>
<path d="M179.80,537.05 L184.50,539.40 L179.80,541.75 Z" fill="#5858e0"/>
<line x1="189.80" y1="539.15" x2="226.00" y2="539.15" stroke="#777777" stroke-width="1.8"/>
<path d="M220.40,537.05 L225.10,539.40 L220.40,541.75 Z" fill="#111111"/>
<line x1="230.40" y1="539.15" x2="266.90" y2="539.15" stroke="#a4a4ea" stroke-width="1.3"/>
<path d="M261.30,537.05 L266.00,539.40 L261.30,541.75 Z" fill="#5858e0"/>
<line x1="271.30" y1="539.15" x2="307.30" y2="539.15" stroke="#a4a4ea" stroke-width="1.3"/>
<path d="M301.70,537.05 L306.40,539.40 L301.70,541.75 Z" fill="#5858e0"/>
<path d="M342.60,537.05 L347.30,539.40 L342.60,541.75 Z" fill="#5858e0"/>
<line x1="311.70" y1="539.15" x2="348.20" y2="539.15" stroke="#6cd07e" stroke-width="1.15"/>
<circle cx="65.3" cy="539.4" r="2.3" fill="#fff" stroke="#1a1a1a" stroke-width="0.9"/>
<circle cx="106.4" cy="539.4" r="2.3" fill="#fff" stroke="#1a1a1a" stroke-width="0.9"/>
<circle cx="146.6" cy="539.4" r="2.3" fill="#fff" stroke="#1a1a1a" stroke-width="0.9"/>
<circle cx="187.6" cy="539.4" r="2.3" fill="#fff" stroke="#1a1a1a" stroke-width="0.9"/>
<circle cx="228.2" cy="539.4" r="2.3" fill="#fff" stroke="#1a1a1a" stroke-width="0.9"/>
<circle cx="269.1" cy="539.4" r="2.3" fill="#fff" stroke="#1a1a1a" stroke-width="0.9"/>
<circle cx="309.5" cy="539.4" r="2.3" fill="#fff" stroke="#1a1a1a" stroke-width="0.9"/>
<circle cx="350.4" cy="539.4" r="2.3" fill="#fff" stroke="#1a1a1a" stroke-width="0.9"/>
<text x="112.60" y="505.00" font-size="6.55" text-anchor="start" fill="#1a1a1a" font-family="'Liberation Serif', 'Times New Roman', serif" stroke="#1a1a1a" stroke-width="0.18" transform="rotate(0.05 112.60 505.00)">1,2-Dihydroxynaphthalene</text>
<text x="244.30" y="505.80" font-size="6.6" text-anchor="start" fill="#1a1a1a" font-family="'Liberation Serif', 'Times New Roman', serif" stroke="#1a1a1a" stroke-width="0.18" transform="rotate(0.05 244.30 505.80)">Salicylaldehyde</text>
<text x="293.60" y="505.80" font-size="6.5" text-anchor="start" fill="#1a1a1a" font-family="'Liberation Serif', 'Times New Roman', serif" stroke="#1a1a1a" stroke-width="0.18" transform="rotate(0.05 293.60 505.80)">Salicylate</text>
<text x="109.40" y="520.80" font-size="6.6" text-anchor="start" fill="#1a1a1a" font-family="'Liberation Serif', 'Times New Roman', serif" stroke="#1a1a1a" stroke-width="0.18" transform="rotate(0.05 109.40 520.80)">1,2-Dihydroxy-8-methylnaphthalene</text>
<text x="237.60" y="520.70" font-size="6.6" text-anchor="start" fill="#1a1a1a" font-family="'Liberation Serif', 'Times New Roman', serif" stroke="#1a1a1a" stroke-width="0.18" transform="rotate(0.05 237.60 520.70)">3-Methylsalicylaldehyde</text>
<text x="116.80" y="535.40" font-size="6.6" text-anchor="start" fill="#1a1a1a" font-family="'Liberation Serif', 'Times New Roman', serif" stroke="#1a1a1a" stroke-width="0.18" transform="rotate(0.05 116.80 535.40)">3,4-Dihydroxyphenanthrene</text>
<text x="232.40" y="536.00" font-size="6.6" text-anchor="start" fill="#1a1a1a" font-family="'Liberation Serif', 'Times New Roman', serif" stroke="#1a1a1a" stroke-width="0.18" transform="rotate(0.05 232.40 536.00)">1-Hydroxy-2-naphthaldehyde</text>
<text x="356.70" y="512.10" font-size="6.6" text-anchor="start" fill="#1a1a1a" font-family="'Liberation Serif', 'Times New Roman', serif" stroke="#1a1a1a" stroke-width="0.18" transform="rotate(0.05 356.70 512.10)">Catechol</text>
<text x="356.70" y="527.00" font-size="6.6" text-anchor="start" fill="#1a1a1a" font-family="'Liberation Serif', 'Times New Roman', serif" stroke="#1a1a1a" stroke-width="0.18" transform="rotate(0.05 356.70 527.00)">3-Methylcatechol</text>
<text x="356.70" y="541.10" font-size="6.6" text-anchor="start" fill="#1a1a1a" font-family="'Liberation Serif', 'Times New Roman', serif" stroke="#1a1a1a" stroke-width="0.18" transform="rotate(0.05 356.70 541.10)">1,2-Dihydroxy-</text>
<text x="356.70" y="547.40" font-size="6.6" text-anchor="start" fill="#1a1a1a" font-family="'Liberation Serif', 'Times New Roman', serif" stroke="#1a1a1a" stroke-width="0.18" transform="rotate(0.05 356.70 547.40)">naphthalene</text>
</svg></body></html>
